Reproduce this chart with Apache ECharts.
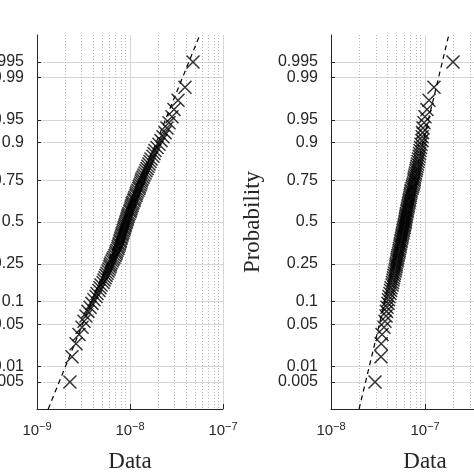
<!DOCTYPE html>
<html>
<head>
<meta charset="utf-8">
<script src="https://cdn.jsdelivr.net/npm/echarts@6/dist/echarts.min.js"></script>
<style>
  html, body { margin: 0; padding: 0; background: #fff; }
  #main { width: 474px; height: 474px; }
</style>
</head>
<body>
<div id="main"></div>
<script>
// sample values (sorted, 100 each)
var leftData = [
    2.26e-9, 2.38e-9, 2.63e-9, 2.83e-9, 3.05e-9, 3.20e-9, 3.36e-9, 3.53e-9, 3.72e-9, 3.90e-9,
    4.10e-9, 4.31e-9, 4.42e-9, 4.64e-9, 4.76e-9, 4.88e-9, 5.13e-9, 5.25e-9, 5.39e-9, 5.52e-9,
    5.66e-9, 5.80e-9, 5.95e-9, 6.08e-9, 6.14e-9, 6.25e-9, 6.41e-9, 6.57e-9, 6.73e-9, 6.90e-9,
    7.05e-9, 7.12e-9, 7.25e-9, 7.41e-9, 7.48e-9, 7.60e-9, 7.68e-9, 7.81e-9, 7.86e-9, 7.98e-9,
    8.06e-9, 8.20e-9, 8.26e-9, 8.40e-9, 8.47e-9, 8.62e-9, 8.69e-9, 8.83e-9, 8.91e-9, 9.05e-9,
    9.13e-9, 9.28e-9, 9.36e-9, 9.51e-9, 9.59e-9, 9.76e-9, 9.98e-9, 1.007e-8, 1.024e-8, 1.031e-8,
    1.050e-8, 1.058e-8, 1.078e-8, 1.102e-8, 1.111e-8, 1.131e-8, 1.158e-8, 1.168e-8, 1.190e-8, 1.218e-8,
    1.248e-8, 1.258e-8, 1.282e-8, 1.311e-8, 1.322e-8, 1.345e-8, 1.381e-8, 1.413e-8, 1.451e-8, 1.485e-8,
    1.524e-8, 1.561e-8, 1.602e-8, 1.640e-8, 1.683e-8, 1.766e-8, 1.813e-8, 1.856e-8, 1.952e-8, 2.049e-8,
    2.155e-8, 2.263e-8, 2.380e-8, 2.498e-8, 2.628e-8, 2.827e-8, 2.972e-8, 3.282e-8, 3.903e-8, 4.758e-8
];
var rightData = [
    2.94e-8, 3.40e-8, 3.42e-8, 3.49e-8, 3.66e-8, 3.75e-8, 3.85e-8, 3.89e-8, 3.94e-8, 4.04e-8,
    4.09e-8, 4.14e-8, 4.24e-8, 4.30e-8, 4.35e-8, 4.46e-8, 4.51e-8, 4.57e-8, 4.62e-8, 4.68e-8,
    4.74e-8, 4.80e-8, 4.85e-8, 4.91e-8, 4.93e-8, 4.97e-8, 5.04e-8, 5.06e-8, 5.10e-8, 5.16e-8,
    5.22e-8, 5.29e-8, 5.31e-8, 5.35e-8, 5.42e-8, 5.44e-8, 5.48e-8, 5.55e-8, 5.57e-8, 5.62e-8,
    5.69e-8, 5.71e-8, 5.76e-8, 5.83e-8, 5.85e-8, 5.90e-8, 5.98e-8, 6.00e-8, 6.05e-8, 6.13e-8,
    6.15e-8, 6.20e-8, 6.22e-8, 6.28e-8, 6.30e-8, 6.36e-8, 6.44e-8, 6.46e-8, 6.51e-8, 6.59e-8,
    6.62e-8, 6.67e-8, 6.76e-8, 6.78e-8, 6.84e-8, 6.92e-8, 6.95e-8, 7.01e-8, 7.10e-8, 7.12e-8,
    7.27e-8, 7.36e-8, 7.45e-8, 7.54e-8, 7.64e-8, 7.66e-8, 7.73e-8, 7.83e-8, 7.92e-8, 8.02e-8,
    8.12e-8, 8.22e-8, 8.32e-8, 8.42e-8, 8.53e-8, 8.64e-8, 8.75e-8, 8.85e-8, 8.96e-8, 9.07e-8,
    9.29e-8, 9.33e-8, 9.41e-8, 9.52e-8, 9.76e-8, 1.000e-7, 1.050e-7, 1.103e-7, 1.246e-7, 1.986e-7
];

// lognormal reference lines (log10 mean / sd)
var fitMu = [-8.0645, -7.2243];
var fitSigma = [0.2706, 0.1584];

var xMin = [1e-9, 1e-8];
var xMax = [1e-7, 1e-6];

var probTicks = [0.005, 0.01, 0.05, 0.1, 0.25, 0.5, 0.75, 0.9, 0.95, 0.99, 0.995];
var probLabels = ['0.005', '0.01', '0.05', '0.1', '0.25', '0.5', '0.75', '0.9', '0.95', '0.99', '0.995'];
var probLimits = [0.0013, 0.9987];

// inverse normal cdf (Acklam) - needed for the probability axis
function probit(p) {
    var a = [-3.969683028665376e+01, 2.209460984245205e+02, -2.759285104469687e+02, 1.383577518672690e+02, -3.066479806614716e+01, 2.506628277459239e+00];
    var b = [-5.447609879822406e+01, 1.615858368580409e+02, -1.556989798598866e+02, 6.680131188771972e+01, -1.328068155288572e+01];
    var c = [-7.784894002430293e-03, -3.223964580411365e-01, -2.400758277161838e+00, -2.549732539343734e+00, 4.374664141464968e+00, 2.938163982698783e+00];
    var d = [7.784695709041462e-03, 3.224671290700398e-01, 2.445134137142996e+00, 3.754408661907416e+00];
    var q, r;
    if (p < 0.02425) {
        q = Math.sqrt(-2 * Math.log(p));
        return (((((c[0]*q+c[1])*q+c[2])*q+c[3])*q+c[4])*q+c[5]) / ((((d[0]*q+d[1])*q+d[2])*q+d[3])*q+1);
    }
    if (p > 1 - 0.02425) {
        q = Math.sqrt(-2 * Math.log(1 - p));
        return -(((((c[0]*q+c[1])*q+c[2])*q+c[3])*q+c[4])*q+c[5]) / ((((d[0]*q+d[1])*q+d[2])*q+d[3])*q+1);
    }
    q = p - 0.5;
    r = q * q;
    return (((((a[0]*r+a[1])*r+a[2])*r+a[3])*r+a[4])*r+a[5])*q / (((((b[0]*r+b[1])*r+b[2])*r+b[3])*r+b[4])*r+1);
}

var zTicks = probTicks.map(probit);
var zMin = probit(probLimits[0]);
var zMax = probit(probLimits[1]);
// the outer labels (0.005, 0.995) sit too close to their neighbours for echarts'
// overlap check, so they go on a second, line-less y axis
var zInner = zTicks.slice(1, -1);
var zOuter = [zTicks[0], zTicks[zTicks.length - 1]];

var textColor = '#262626';
var gridColor = '#d6d6d6';

function probLabel(v) {
    for (var i = 0; i < zTicks.length; i++) {
        if (Math.abs(zTicks[i] - v) < 1e-6) return probLabels[i];
    }
    return '';
}

function minorValues(lo, hi) {
    var out = [];
    for (var dec = lo; dec < hi * 0.999; dec *= 10) {
        for (var k = 2; k <= 9; k++) out.push(k * dec);
    }
    return out;
}

var myChart = echarts.init(document.getElementById('main'));

var grids = [
    {left: 37, top: 35, width: 186, height: 374, outerBoundsMode: 'none', containLabel: false},
    {left: 331, top: 35, width: 188, height: 374, outerBoundsMode: 'none', containLabel: false}
];

var labelStyle = {
    formatter: probLabel,
    showMinLabel: true,
    showMaxLabel: true,
    margin: 13,
    fontFamily: 'Liberation Sans',
    fontSize: 16,
    color: textColor
};

var xAxes = [], yAxes = [], series = [];
[leftData, rightData].forEach(function (data, g) {
    xAxes.push({
        type: 'log',
        logBase: 10,
        gridIndex: g,
        position: 'bottom',
        min: xMin[g],
        max: xMax[g],
        axisLine: {show: true, onZero: false, lineStyle: {color: textColor, width: 1}},
        axisTick: {show: true, inside: true, length: 5, lineStyle: {color: textColor}},
        axisLabel: {
            margin: 12,
            showMinLabel: true,
            showMaxLabel: true,
            formatter: function (v) {
                var e = Math.round(Math.log10(v));
                return '{b|10}{s|' + String(e).replace('-', '\u2212') + '}';
            },
            rich: {
                b: {fontFamily: 'Liberation Sans', fontSize: 15, color: textColor, lineHeight: 20},
                s: {fontFamily: 'Liberation Sans', fontSize: 11, color: textColor, verticalAlign: 'top', lineHeight: 12}
            }
        },
        splitLine: {show: true, lineStyle: {color: gridColor, width: 1}},
        name: 'Data',
        nameLocation: 'middle',
        nameGap: 41,
        nameTextStyle: {fontFamily: 'Liberation Serif', fontSize: 23, color: textColor}
    });
    yAxes.push({
        type: 'value',
        gridIndex: g,
        position: 'left',
        min: zMin,
        max: zMax,
        axisLine: {show: true, onZero: false, lineStyle: {color: textColor, width: 1}},
        axisTick: {show: true, inside: true, length: 4, customValues: zTicks, lineStyle: {color: textColor}},
        axisLabel: Object.assign({customValues: zInner}, labelStyle),
        splitLine: {show: true, lineStyle: {color: gridColor, width: 1}},
        name: g === 1 ? 'Probability' : '',
        nameLocation: 'middle',
        nameGap: 67,
        nameTextStyle: {fontFamily: 'Liberation Serif', fontSize: 23, color: textColor}
    });

    // dashed reference line over the full probability range
    var fitLine = [
        [Math.pow(10, fitMu[g] + zMin * fitSigma[g]), zMin],
        [Math.pow(10, fitMu[g] + zMax * fitSigma[g]), zMax]
    ];
    series.push({
        type: 'line',
        xAxisIndex: g,
        yAxisIndex: g,
        data: fitLine,
        showSymbol: false,
        symbol: 'none',
        silent: true,
        z: 3,
        lineStyle: {color: '#000', width: 1.2, type: [5, 4]}
    });

    var n = data.length;
    series.push({
        type: 'scatter',
        xAxisIndex: g,
        yAxisIndex: g,
        data: data.map(function (x, i) { return [x, probit((i + 0.5) / n)]; }),
        symbol: 'path://M0,0L10,10M0,10L10,0',
        symbolSize: 13,
        z: 4,
        itemStyle: {color: 'transparent', borderColor: '#000', borderWidth: 1.5}
    });
});

[0, 1].forEach(function (g) {
    // extra hidden log axis that only carries the dotted minor grid
    var minors = minorValues(xMin[g], xMax[g]);
    xAxes.push({
        type: 'log',
        logBase: 10,
        gridIndex: g,
        position: 'top',
        min: xMin[g],
        max: xMax[g],
        axisLine: {show: false},
        axisTick: {show: false, customValues: minors},
        axisLabel: {show: false, customValues: minors},
        splitLine: {show: true, lineStyle: {color: '#b8b8b8', width: 1, type: [1, 2]}}
    });
    // second y axis at the same place, only for the two outer labels
    yAxes.push({
        type: 'value',
        gridIndex: g,
        position: 'left',
        offset: 0,
        min: zMin,
        max: zMax,
        axisLine: {show: false, onZero: false},
        axisTick: {show: false, customValues: zOuter},
        axisLabel: Object.assign({customValues: zOuter}, labelStyle),
        splitLine: {show: false}
    });
});

var option = {
    animation: false,
    backgroundColor: '#fff',
    grid: grids,
    xAxis: xAxes,
    yAxis: yAxes,
    series: series
};
myChart.setOption(option);
</script>
</body>
</html>
